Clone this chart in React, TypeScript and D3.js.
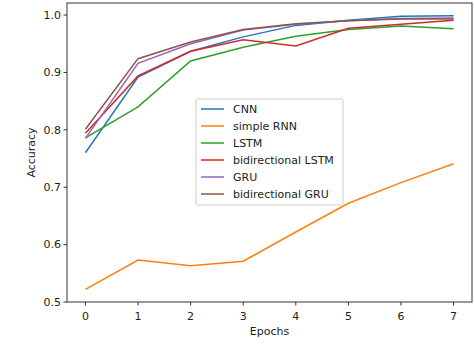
import React from 'react';
import * as d3 from 'd3';

const epochs = [0, 1, 2, 3, 4, 5, 6, 7];
const seriesNames = ['CNN', 'simple RNN', 'LSTM', 'bidirectional LSTM', 'GRU', 'bidirectional GRU'];
const cnn = [0.760, 0.892, 0.937, 0.962, 0.982, 0.991, 0.998, 0.999];
const simpleRnn = [0.522, 0.573, 0.563, 0.571, 0.622, 0.672, 0.708, 0.741];
const lstm = [0.786, 0.840, 0.920, 0.944, 0.963, 0.975, 0.981, 0.976];
const biLstm = [0.794, 0.894, 0.937, 0.957, 0.946, 0.977, 0.984, 0.991];
const gru = [0.785, 0.916, 0.950, 0.974, 0.984, 0.990, 0.994, 0.995];
const biGru = [0.801, 0.924, 0.953, 0.975, 0.985, 0.990, 0.993, 0.993];
const yTicks = [0.5, 0.6, 0.7, 0.8, 0.9, 1.0];
const colors = ['#1f77b4', '#ff7f0e', '#2ca02c', '#d62728', '#9467bd', '#8c564b'];

const allSeries = [cnn, simpleRnn, lstm, biLstm, gru, biGru];

const W = 474;
const H = 354;
const left = 67;
const right = 472;
const top = 3;
const bottom = 302;
const font = 'DejaVu Sans, sans-serif';

export default function App() {
  const x = d3.scaleLinear().domain([-0.35, 7.35]).range([left, right]);
  const y = d3.scaleLinear().domain([0.5, 1.021]).range([bottom, top]);

  const line = d3
    .line<number>()
    .x((_, i) => x(epochs[i]))
    .y((d) => y(d));

  const legX = 196;
  const legY = 99;
  const rowH = 17;

  return (
    <svg width={W} height={H} style={{ position: 'absolute', left: 0, top: 0, background: 'white' }}>
      {allSeries.map((s, i) => (
        <path key={i} d={line(s) || ''} fill="none" stroke={colors[i]} strokeWidth={1.5} />
      ))}

      <rect x={left} y={top} width={right - left} height={bottom - top} fill="none" stroke="#333" strokeWidth={1} />

      {yTicks.map((t) => (
        <g key={t}>
          <line x1={left - 3.5} x2={left} y1={y(t)} y2={y(t)} stroke="#333" />
          <text x={left - 6} y={y(t)} dy="0.35em" textAnchor="end" fontSize={11} fontFamily={font} fill="#222">
            {t.toFixed(1)}
          </text>
        </g>
      ))}
      {epochs.map((e) => (
        <g key={e}>
          <line x1={x(e)} x2={x(e)} y1={bottom} y2={bottom + 3.5} stroke="#333" />
          <text x={x(e)} y={bottom + 14} dy="0.35em" textAnchor="middle" fontSize={11} fontFamily={font} fill="#222">
            {e}
          </text>
        </g>
      ))}

      <text x={(left + right) / 2} y={331} dy="0.35em" textAnchor="middle" fontSize={11} fontFamily={font} fill="#222">
        Epochs
      </text>
      <text
        transform={`translate(31,${(top + bottom) / 2}) rotate(-90)`}
        dy="0.35em"
        textAnchor="middle"
        fontSize={11}
        fontFamily={font}
        fill="#222"
      >
        Accuracy
      </text>

      <rect x={legX} y={legY} width={147} height={106} rx={2} fill="white" fillOpacity={0.8} stroke="#ccc" />
      {seriesNames.map((n, i) => (
        <g key={n}>
          <line
            x1={legX + 5}
            x2={legX + 28}
            y1={legY + 10 + i * rowH}
            y2={legY + 10 + i * rowH}
            stroke={colors[i]}
            strokeWidth={1.5}
          />
          <text x={legX + 37} y={legY + 10 + i * rowH} dy="0.35em" fontSize={11} fontFamily={font} fill="#222">
            {n}
          </text>
        </g>
      ))}
    </svg>
  );
}
